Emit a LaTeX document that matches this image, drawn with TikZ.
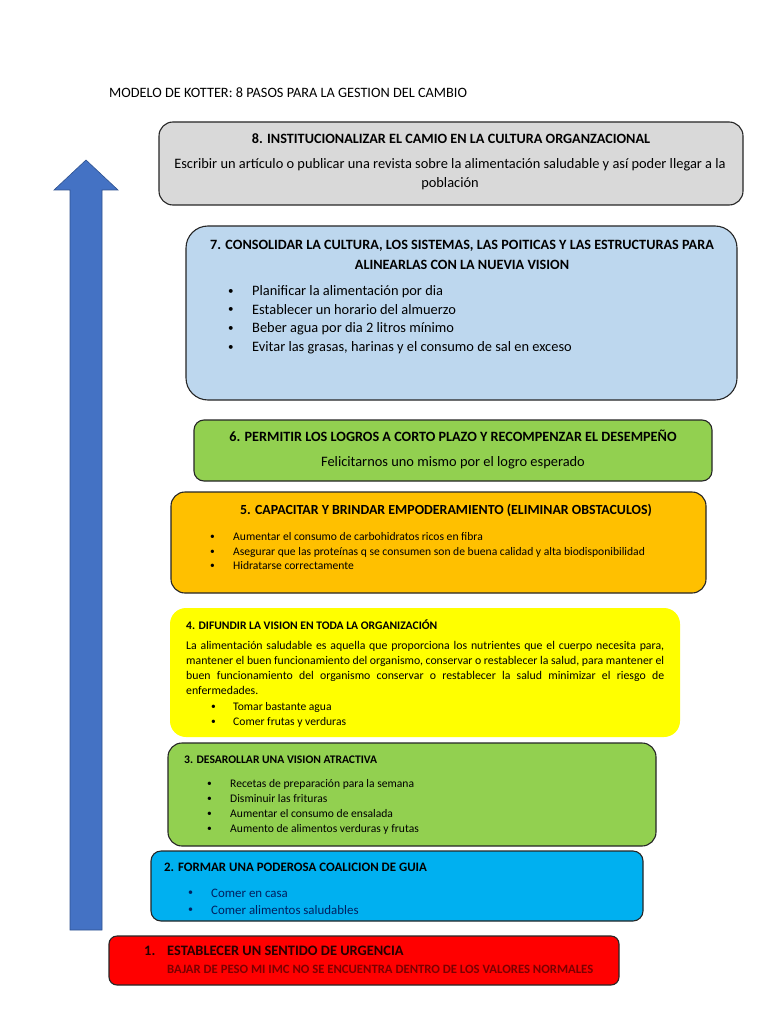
\documentclass[tikz,border=0pt]{standalone}
\usepackage{fontspec}
\setmainfont{Carlito}
\definecolor{g8}{HTML}{D9D9D9}
\definecolor{b7}{HTML}{BDD7EE}
\definecolor{gr}{HTML}{92D050}
\definecolor{or}{HTML}{FFC000}
\definecolor{ye}{HTML}{FFFF00}
\definecolor{cy}{HTML}{00B0F0}
\definecolor{rd}{HTML}{FF0000}
\definecolor{ar}{HTML}{4472C4}
\definecolor{arb}{HTML}{2F528F}
\definecolor{nav}{HTML}{002060}
\definecolor{drd}{HTML}{7A0000}
\begin{document}
\begin{tikzpicture}[x=1pt,y=-1pt,
  box/.style={draw=black!85,line width=1.1pt,rounded corners=14pt},
  lbl/.style={inner sep=0pt,anchor=west},
  ctr/.style={inner sep=0pt,anchor=center},
  big/.style={font=\fontsize{14.4}{17}\selectfont},
  bigb/.style={font=\fontsize{14.2}{17}\selectfont\bfseries},
  sm/.style={font=\fontsize{11.6}{15}\selectfont},
  smb/.style={font=\fontsize{11.6}{15}\selectfont\bfseries}]
\useasboundingbox (0,0) rectangle (768,1024);
\fill[white] (0,0) rectangle (768,1024);
% title
\node[lbl,font=\fontsize{14.3}{17}\selectfont] (title) at (109,93) {MODELO DE KOTTER: 8 PASOS PARA LA GESTION DEL CAMBIO};
% arrow
\draw[fill=ar,draw=arb,line width=0.6pt] (70,930) -- (70,190) -- (54,190) -- (86,160) -- (118,190) -- (102,190) -- (102,930) -- cycle;
% box 8
\draw[box,fill=g8] (159,122) rectangle (743,205);
\node[ctr,bigb] (t8) at (451,139) {8. INSTITUCIONALIZAR EL CAMIO EN LA CULTURA ORGANZACIONAL};
\node[ctr,big] (t8a) at (450,165) {Escribir un artículo o publicar una revista sobre la alimentación saludable y así poder llegar a la};
\node[ctr,big] (t8b) at (450,184) {población};
% box 7
\draw[box,fill=b7,rounded corners=22pt] (186,226) rectangle (737,400);
\node[ctr,bigb] (t7a) at (462,246) {7. CONSOLIDAR LA CULTURA, LOS SISTEMAS, LAS POITICAS Y LAS ESTRUCTURAS PARA};
\node[ctr,bigb] (t7b) at (462,265) {ALINEARLAS CON LA NUEVIA VISION};
\foreach \y/\t [count=\i] in {292/Planificar la alimentación por dia,310/Establecer un horario del almuerzo,329/Beber agua por dia 2 litros mínimo,348/{Evitar las grasas, harinas y el consumo de sal en exceso}}{
  \node[lbl,font=\fontsize{11}{14}\selectfont] (d7\i) at (228,\y) {\textbullet};
  \node[lbl,big] (l7\i) at (252,\y) {\t};
}
% box 6
\draw[box,fill=gr,rounded corners=10pt] (194,420) rectangle (712,481);
\node[ctr,bigb] (t6) at (453,436) {6. PERMITIR LOS LOGROS A CORTO PLAZO Y RECOMPENZAR EL DESEMPEÑO};
\node[ctr,big] (t6a) at (453,463) {Felicitarnos uno mismo por el logro esperado};
% box 5
\draw[box,fill=or] (171,492) rectangle (706,593);
\node[ctr,font=\fontsize{13.9}{16}\selectfont\bfseries] (t5) at (446,510) {5. CAPACITAR Y BRINDAR EMPODERAMIENTO (ELIMINAR OBSTACULOS)};
\foreach \y/\t [count=\i] in {537/Aumentar el consumo de carbohidratos ricos en fibra,552/Asegurar que las proteínas q se consumen son de buena calidad y alta biodisponibilidad,566/Hidratarse correctamente}{
  \node[lbl,font=\fontsize{9.5}{12}\selectfont] (d5\i) at (210,\y) {\textbullet};
  \node[lbl,sm] (l5\i) at (233,\y) {\t};
}
% box 4
\fill[ye,rounded corners=16pt] (170,608) rectangle (680,737);
\node[lbl,smb] (t4) at (186,625) {4. DIFUNDIR LA VISION EN TODA LA ORGANIZACIÓN};
\node[inner sep=0pt,anchor=north west,text width=478pt,align=justify,font=\fontsize{11.8}{15}\selectfont] (p4) at (186,641) {\hyphenpenalty=10000 La alimentación saludable es aquella que proporciona los nutrientes que el cuerpo necesita para,\linebreak mantener el buen funcionamiento del organismo, conservar o restablecer la salud, para mantener el\linebreak buen funcionamiento del organismo conservar o restablecer la salud minimizar el riesgo de\linebreak enfermedades.};
\foreach \y/\t [count=\i] in {707/Tomar bastante agua,722/Comer frutas y verduras}{
  \node[lbl,font=\fontsize{9.5}{12}\selectfont] (d4\i) at (211,\y) {\textbullet};
  \node[lbl,sm] (l4\i) at (233,\y) {\t};
}
% box 3
\draw[box,fill=gr] (168,743) rectangle (656,846);
\node[lbl,smb] (t3) at (184,760) {3. DESAROLLAR UNA VISION ATRACTIVA};
\foreach \y/\t [count=\i] in {784/Recetas de preparación para la semana,799/Disminuir las frituras,814/Aumentar el consumo de ensalada,829/Aumento de alimentos verduras y frutas}{
  \node[lbl,font=\fontsize{9.5}{12}\selectfont] (d3\i) at (207,\y) {\textbullet};
  \node[lbl,sm] (l3\i) at (230,\y) {\t};
}
% box 2
\draw[box,fill=cy,rounded corners=10pt] (151,851) rectangle (643,921);
\node[lbl,font=\fontsize{12.9}{15}\selectfont\bfseries] (t2) at (164,867) {2. FORMAR UNA PODEROSA COALICION DE GUIA};
\foreach \y/\t [count=\i] in {893/Comer en casa,910/Comer alimentos saludables}{
  \node[lbl,font=\fontsize{10}{12}\selectfont,text=nav] (d2\i) at (188,\y) {\textbullet};
  \node[lbl,font=\fontsize{12.9}{15}\selectfont,text=nav] (l2\i) at (211,\y) {\t};
}
% box 1
\draw[box,fill=rd,rounded corners=8pt] (109,936) rectangle (619,985);
\node[lbl,font=\fontsize{14.4}{17}\selectfont\bfseries,text=black!85!red] (n1) at (144,951) {1.};
\node[lbl,font=\fontsize{14.4}{17}\selectfont\bfseries,text=black!85!red] (t1) at (167,951) {ESTABLECER UN SENTIDO DE URGENCIA};
\node[lbl,font=\fontsize{12.7}{15}\selectfont\bfseries,text=drd] (t1a) at (167,969) {BAJAR DE PESO MI IMC NO SE ENCUENTRA DENTRO DE LOS VALORES NORMALES};
\end{tikzpicture}
\end{document}
